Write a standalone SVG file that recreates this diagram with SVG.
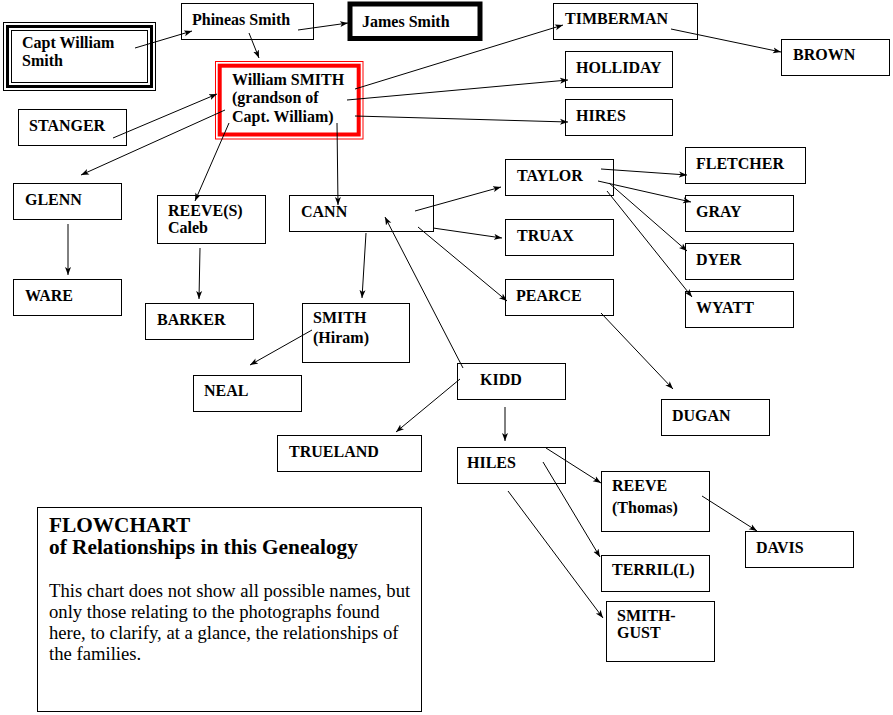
<svg xmlns="http://www.w3.org/2000/svg" width="893" height="715" viewBox="0 0 893 715">
<defs>
<marker id="ah" markerUnits="userSpaceOnUse" markerWidth="9" markerHeight="8" refX="8" refY="3.5" orient="auto">
<path d="M0,0.5 L8,3.5 L0,6.5 L2,3.5 z" fill="#000"/>
</marker>
</defs>
<style>
rect{fill:#fff;stroke:#000;stroke-width:1}
.n{font-family:"Liberation Serif","Times New Roman",serif;font-weight:bold;font-size:16px;fill:#000}
.t{font-family:"Liberation Serif","Times New Roman",serif;font-weight:bold;font-size:21.3px;fill:#000}
.b{font-family:"Liberation Serif","Times New Roman",serif;font-size:18.67px;fill:#000}
#edges line{stroke:#000;stroke-width:1;marker-end:url(#ah)}
</style>
<rect x="0" y="0" width="893" height="715" style="fill:#fff;stroke:none"/>

<g id="capt">
<rect x="3.5" y="22.5" width="152" height="68"/>
<rect x="7.5" y="26.5" width="144" height="60" style="stroke-width:3"/>
<rect x="11.5" y="30.5" width="136" height="52"/>
<text class="n" x="22" y="47.5">Capt William</text>
<text class="n" x="22" y="65.5">Smith</text>
</g>
<g id="phineas"><rect x="181.5" y="3.5" width="132" height="36"/><text class="n" x="192" y="25">Phineas Smith</text></g>
<g id="james"><rect x="350" y="4" width="130" height="34.5" style="stroke-width:5"/><text class="n" x="362" y="27">James Smith</text></g>
<g id="william">
<rect x="215.5" y="61.5" width="147.5" height="77.5" style="stroke:#f00"/>
<rect x="219.7" y="65.7" width="139" height="68.8" style="stroke:#f00;stroke-width:4"/>
<text class="n" x="232" y="85">William SMITH</text>
<text class="n" x="232" y="103">(grandson of</text>
<text class="n" x="232" y="122">Capt. William)</text>
</g>
<g id="timberman"><rect x="553.5" y="3.5" width="144" height="36"/><text class="n" x="565" y="24">TIMBERMAN</text></g>
<g id="brown"><rect x="781.5" y="39.5" width="108" height="36"/><text class="n" x="793" y="60">BROWN</text></g>
<g id="holliday"><rect x="565.5" y="51.5" width="107" height="36"/><text class="n" x="576" y="73">HOLLIDAY</text></g>
<g id="hires"><rect x="565.5" y="99.5" width="107" height="36"/><text class="n" x="576" y="121">HIRES</text></g>
<g id="stanger"><rect x="18.5" y="109.5" width="108" height="36"/><text class="n" x="29" y="131">STANGER</text></g>
<g id="glenn"><rect x="13.5" y="183.5" width="108" height="36"/><text class="n" x="25" y="205">GLENN</text></g>
<g id="ware"><rect x="13.5" y="279.5" width="108" height="36"/><text class="n" x="25" y="301">WARE</text></g>
<g id="reeves"><rect x="157.5" y="195.5" width="108" height="48"/><text class="n" x="168" y="216">REEVE(S)</text><text class="n" x="168" y="233">Caleb</text></g>
<g id="barker"><rect x="145.5" y="303.5" width="108" height="36"/><text class="n" x="157" y="325">BARKER</text></g>
<g id="cann"><rect x="289.5" y="195.5" width="144" height="36"/><text class="n" x="301" y="217">CANN</text></g>
<g id="smithhiram"><rect x="302.5" y="303.5" width="107" height="59"/><text class="n" x="313" y="323">SMITH</text><text class="n" x="313" y="343">(Hiram)</text></g>
<g id="taylor"><rect x="505.5" y="159.5" width="108" height="36"/><text class="n" x="517" y="181">TAYLOR</text></g>
<g id="truax"><rect x="505.5" y="219.5" width="108" height="36"/><text class="n" x="517" y="241">TRUAX</text></g>
<g id="pearce"><rect x="505.5" y="279.5" width="108" height="36"/><text class="n" x="516" y="301">PEARCE</text></g>
<g id="fletcher"><rect x="685.5" y="147.5" width="120" height="36"/><text class="n" x="696" y="169">FLETCHER</text></g>
<g id="gray"><rect x="685.5" y="195.5" width="108" height="36"/><text class="n" x="696" y="217">GRAY</text></g>
<g id="dyer"><rect x="685.5" y="243.5" width="108" height="36"/><text class="n" x="696" y="265">DYER</text></g>
<g id="wyatt"><rect x="685.5" y="291.5" width="108" height="36"/><text class="n" x="696" y="313">WYATT</text></g>
<g id="neal"><rect x="193.5" y="375.5" width="108" height="36"/><text class="n" x="204" y="396">NEAL</text></g>
<g id="kidd"><rect x="457.5" y="363.5" width="108" height="36"/><text class="n" x="480" y="385">KIDD</text></g>
<g id="trueland"><rect x="277.5" y="435.5" width="144" height="36"/><text class="n" x="289" y="457">TRUELAND</text></g>
<g id="hiles"><rect x="457.5" y="447.5" width="108" height="36"/><text class="n" x="467" y="468">HILES</text></g>
<g id="dugan"><rect x="661.5" y="399.5" width="108" height="36"/><text class="n" x="672" y="421">DUGAN</text></g>
<g id="reevethomas"><rect x="601.5" y="471.5" width="108" height="60"/><text class="n" x="612" y="491">REEVE</text><text class="n" x="612" y="513">(Thomas)</text></g>
<g id="davis"><rect x="745.5" y="531.5" width="108" height="36"/><text class="n" x="756" y="553">DAVIS</text></g>
<g id="terril"><rect x="601.5" y="555.5" width="108" height="36"/><text class="n" x="612" y="575">TERRIL(L)</text></g>
<g id="smithgust"><rect x="606.5" y="601.5" width="108" height="60"/><text class="n" x="617" y="621">SMITH-</text><text class="n" x="617" y="638">GUST</text></g>

<g id="legend">
<rect x="37.5" y="507.5" width="384" height="204"/>
<text class="t" x="49" y="532">FLOWCHART</text>
<text class="t" x="49" y="554">of Relationships in this Genealogy</text>
<text class="b" x="49" y="597">This chart does not show all possible names, but</text>
<text class="b" x="49" y="618">only those relating to the photographs found</text>
<text class="b" x="49" y="639">here, to clarify, at a glance, the relationships of</text>
<text class="b" x="49" y="660">the families.</text>
</g>

<g id="edges">
<line x1="135" y1="48" x2="192" y2="31"/>
<line x1="298" y1="30" x2="348" y2="23"/>
<line x1="249" y1="33" x2="259" y2="58"/>
<line x1="113" y1="138" x2="217" y2="94"/>
<line x1="225" y1="110" x2="81" y2="175"/>
<line x1="229" y1="123" x2="195" y2="201"/>
<line x1="337" y1="123" x2="338" y2="205"/>
<line x1="355" y1="89" x2="563" y2="25"/>
<line x1="347" y1="100" x2="568" y2="80"/>
<line x1="355" y1="116" x2="568" y2="122"/>
<line x1="671" y1="29" x2="781" y2="52"/>
<line x1="68" y1="224" x2="68" y2="275"/>
<line x1="200" y1="248" x2="199" y2="299"/>
<line x1="366" y1="233" x2="362" y2="298"/>
<line x1="463" y1="368" x2="385" y2="217"/>
<line x1="415" y1="211" x2="501" y2="187"/>
<line x1="433" y1="228" x2="502" y2="238"/>
<line x1="418" y1="227" x2="507" y2="301"/>
<line x1="601" y1="313" x2="673" y2="389"/>
<line x1="601" y1="169" x2="687" y2="175"/>
<line x1="598" y1="181" x2="691" y2="202"/>
<line x1="609" y1="183" x2="687" y2="251"/>
<line x1="607" y1="191" x2="692" y2="297"/>
<line x1="312" y1="330" x2="250" y2="365"/>
<line x1="460" y1="379" x2="396" y2="432"/>
<line x1="505" y1="407" x2="505" y2="441"/>
<line x1="546" y1="448" x2="601" y2="483"/>
<line x1="543" y1="462" x2="600" y2="557"/>
<line x1="508" y1="491" x2="603" y2="618"/>
<line x1="702" y1="496" x2="757" y2="531"/>
</g>
</svg>
